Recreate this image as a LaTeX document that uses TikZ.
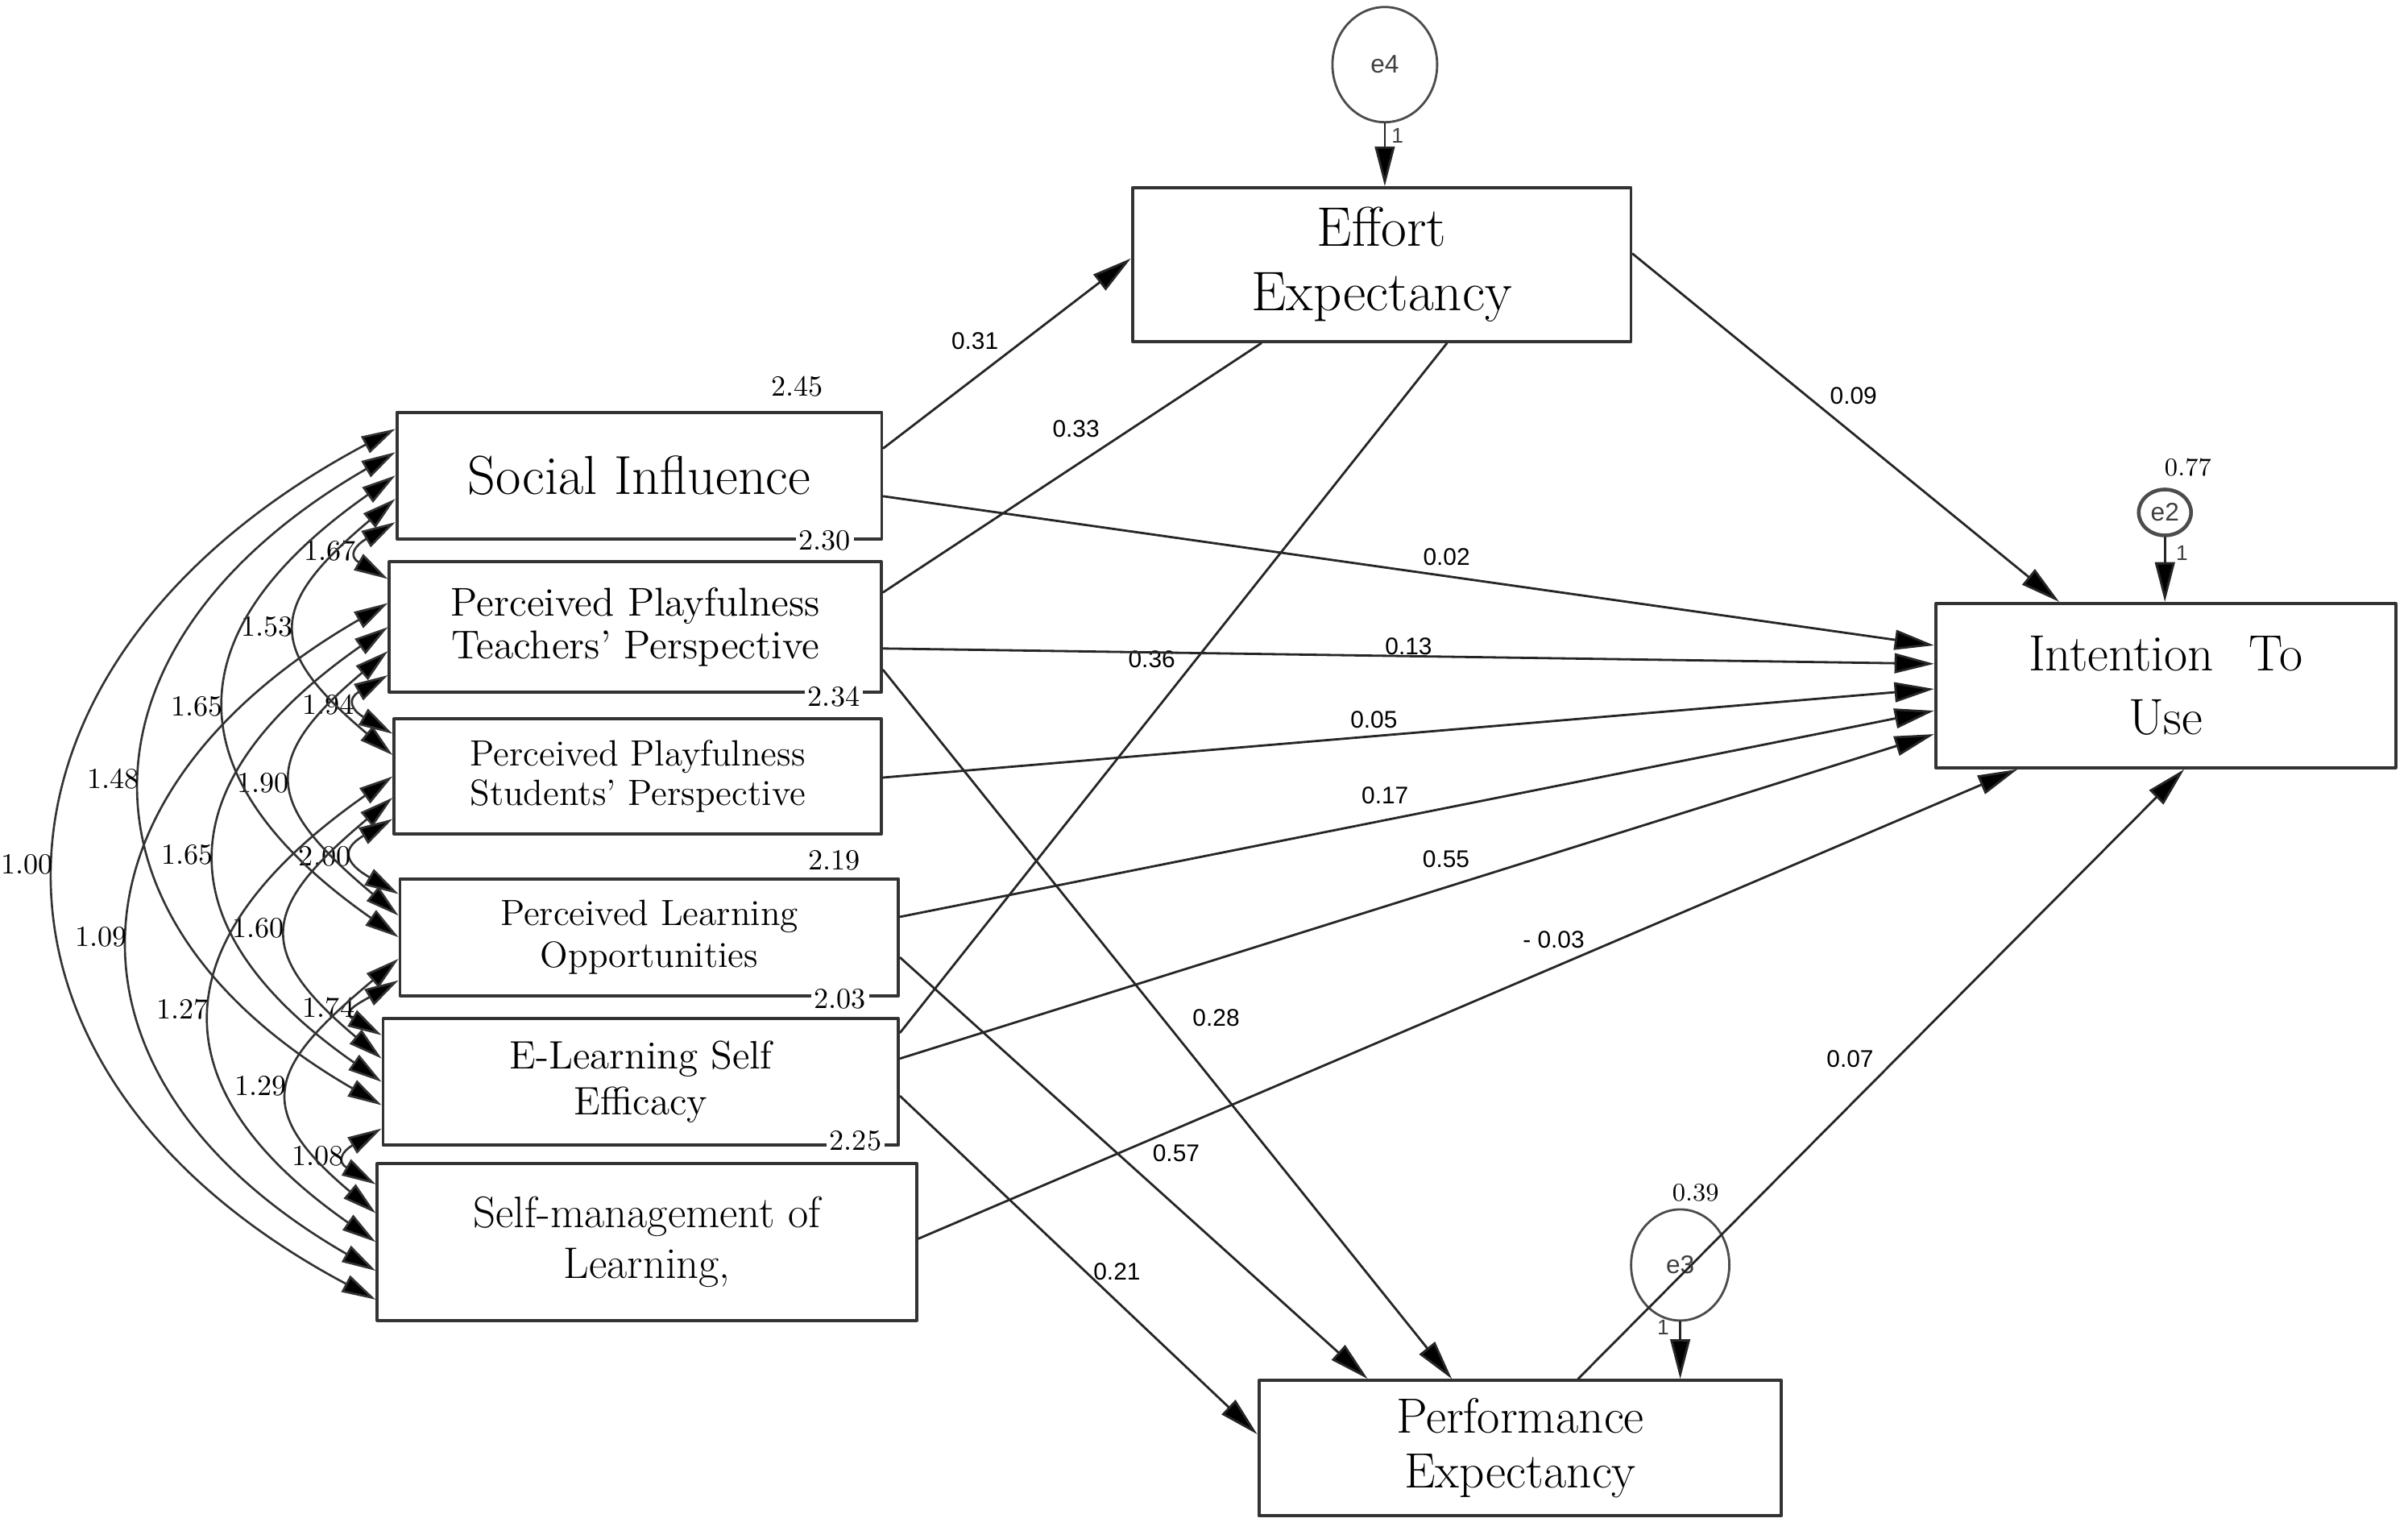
\documentclass[tikz,border=0pt]{standalone}
\usepackage{fontspec}
\newfontfamily\sansnum{Liberation Sans}
\usetikzlibrary{arrows.meta,calc,shapes.geometric}

\begin{document}
\begin{tikzpicture}[line cap=round,line join=round,x=0.0191cm,y=0.0191cm,
                box/.style={draw=black!80,line width=1.1pt,fill=white,align=center,inner sep=0pt},
                err/.style={ellipse,draw=black!70,line width=0.8pt,inner sep=0pt,font=\sansnum\fontsize{9}{10}\selectfont,text=black!75},
                arr/.style={draw=black!85,line width=0.8pt,-{Triangle[length=14pt,width=7pt,fill=black]}},
                lin/.style={draw=black!85,line width=0.8pt},
                cov/.style={draw=black!80,line width=0.75pt,{Triangle[length=12pt,width=6.5pt,fill=black]}-{Triangle[length=12pt,width=6.5pt,fill=black]}},
                cl/.style={left,font=\fontsize{10.3}{12}\selectfont,inner sep=1.5pt},
                cf/.style={font=\sansnum\fontsize{8.5}{10}\selectfont,inner sep=1pt},
                vl/.style={font=\fontsize{10.3}{12}\selectfont,inner sep=1pt,fill=white},
                one/.style={font=\sansnum\fontsize{7.5}{9}\selectfont,text=black!75,inner sep=1pt},
                sp1/.style={out=210,in=150,looseness=2.07},
                sp2/.style={out=220,in=140,looseness=1.66},
                sp3/.style={out=215,in=145,looseness=1.52},
                sp4/.style={out=210,in=150,looseness=1.47},
                sp5/.style={out=208,in=152,looseness=1.45}]
                \useasboundingbox (0,0) rectangle (1565,1000);

                \node[box,minimum width=6.19cm,minimum height=1.91cm,font=\fontsize{19.7}{22.8}\selectfont] (ee) at (898,828) {Effort\\Expectancy};
                \node[box,minimum width=6.02cm,minimum height=1.57cm,font=\fontsize{19.4}{22}\selectfont] (soc) at (415.5,691) {Social Influence};
                \node[box,minimum width=6.11cm,minimum height=1.62cm,font=\fontsize{14.2}{15.2}\selectfont] (ppt) at (413,592.5) {Perceived Playfulness\\Teachers' Perspective};
                \node[box,minimum width=6.05cm,minimum height=1.43cm,font=\fontsize{12.9}{14.1}\selectfont] (pps) at (414.5,495.5) {Perceived Playfulness\\Students' Perspective};
                \node[box,minimum width=6.19cm,minimum height=1.45cm,font=\fontsize{12.9}{14.6}\selectfont] (plo) at (422,391) {Perceived Learning\\Opportunities};
                \node[box,minimum width=6.40cm,minimum height=1.57cm,font=\fontsize{14}{16.3}\selectfont] (els) at (416.5,297) {E-Learning Self\\Efficacy};
                \node[box,minimum width=6.70cm,minimum height=1.95cm,font=\fontsize{15.6}{17.9}\selectfont] (sml) at (420.5,193) {Self-management of\\Learning,};
                \node[box,minimum width=5.71cm,minimum height=2.04cm,font=\fontsize{18}{22.3}\selectfont] (itu) at (1407.5,554.5) {Intention\hspace{0.7em}To\\Use};
                \node[box,minimum width=6.49cm,minimum height=1.68cm,font=\fontsize{17.5}{19.6}\selectfont] (pe) at (988,59) {Performance\\Expectancy};

                \node[err,minimum width=1.30cm,minimum height=1.43cm] (e4) at (900,958) {e4};
                \node[err,minimum width=0.65cm,minimum height=0.57cm,line width=1.3pt] (e2) at (1407,667) {e2};
                \node[err,minimum width=1.22cm,minimum height=1.38cm] (e3) at (1092,178) {e3};

                \draw [arr] (e4.south) -- (e4.south |- ee.north) node[one,pos=.2,xshift=4.5pt] {1};
                \draw [arr] (e2.south) -- (e2.south |- itu.north) node[one,pos=.24,xshift=6pt] {1};
                \draw [arr] (e3.south) -- (e3.south |- pe.north) node[one,pos=.1,xshift=-6pt] {1};

                \draw [cov] ($(soc.north west)!.86!(soc.south west)$) to[sp1] node[cl] {1.67} ($(ppt.north west)!.14!(ppt.south west)$);
                \draw [cov] ($(ppt.north west)!.86!(ppt.south west)$) to[sp1] node[cl] {1.94} ($(pps.north west)!.14!(pps.south west)$);
                \draw [cov] ($(pps.north west)!.86!(pps.south west)$) to[sp1] node[cl] {2.00} ($(plo.north west)!.14!(plo.south west)$);
                \draw [cov] ($(plo.north west)!.86!(plo.south west)$) to[sp1] node[cl] {1.74} ($(els.north west)!.14!(els.south west)$);
                \draw [cov] ($(els.north west)!.86!(els.south west)$) to[sp1] node[cl] {1.08} ($(sml.north west)!.14!(sml.south west)$);
                \draw [cov] ($(soc.north west)!.68!(soc.south west)$) to[sp2] node[cl] {1.53} ($(pps.north west)!.32!(pps.south west)$);
                \draw [cov] ($(ppt.north west)!.68!(ppt.south west)$) to[sp2] node[cl] {1.90} ($(plo.north west)!.32!(plo.south west)$);
                \draw [cov] ($(pps.north west)!.68!(pps.south west)$) to[sp2] node[cl] {1.60} ($(els.north west)!.32!(els.south west)$);
                \draw [cov] ($(plo.north west)!.68!(plo.south west)$) to[sp2] node[cl] {1.29} ($(sml.north west)!.32!(sml.south west)$);
                \draw [cov] ($(soc.north west)!.5!(soc.south west)$) to[sp3] node[cl] {1.65} ($(plo.north west)!.5!(plo.south west)$);
                \draw [cov] ($(ppt.north west)!.5!(ppt.south west)$) to[sp3] node[cl] {1.65} ($(els.north west)!.5!(els.south west)$);
                \draw [cov] ($(pps.north west)!.5!(pps.south west)$) to[sp3] node[cl] {1.27} ($(sml.north west)!.5!(sml.south west)$);
                \draw [cov] ($(soc.north west)!.32!(soc.south west)$) to[sp4] node[cl] {1.48} ($(els.north west)!.68!(els.south west)$);
                \draw [cov] ($(ppt.north west)!.32!(ppt.south west)$) to[sp4] node[cl] {1.09} ($(sml.north west)!.68!(sml.south west)$);
                \draw [cov] ($(soc.north west)!.14!(soc.south west)$) to[sp5] node[cl] {1.00} ($(sml.north west)!.86!(sml.south west)$);

                \draw [arr] ($(soc.north east)!.29!(soc.south east)$) -- ($(ee.north west)!.46!(ee.south west)$) node[cf,pos=.37,yshift=13pt] {0.31};
                \draw [lin] ($(ppt.north east)!.24!(ppt.south east)$) -- ($(ee.south west)!.26!(ee.south east)$) node[cf,pos=.51,yshift=13pt] {0.33};
                \draw [lin] ($(ee.south west)!.63!(ee.south east)$) -- ($(els.north east)!.12!(els.south east)$) node[cf,pos=.458,xshift=-15.8pt] {0.36};
                \draw [arr] ($(ee.north east)!.43!(ee.south east)$) -- ($(itu.north west)!.27!(itu.north east)$) node[cf,pos=.518,yshift=13.4pt] {0.09};
                \draw [arr] ($(soc.north east)!.66!(soc.south east)$) -- ($(itu.north west)!.26!(itu.south west)$) node[cf,pos=.536,yshift=6.8pt] {0.02};
                \draw [arr] ($(ppt.north east)!.66!(ppt.south east)$) -- ($(itu.north west)!.37!(itu.south west)$) node[cf,pos=.5,yshift=3.5pt] {0.13};
                \draw [arr] ($(pps.north east)!.51!(pps.south east)$) -- ($(itu.north west)!.52!(itu.south west)$) node[cf,pos=.467,yshift=5.7pt] {0.05};
                \draw [arr] ($(plo.north east)!.33!(plo.south east)$) -- ($(itu.north west)!.65!(itu.south west)$) node[cf,pos=.469,yshift=8.7pt] {0.17};
                \draw [arr] ($(els.north east)!.32!(els.south east)$) -- ($(itu.north west)!.79!(itu.south west)$) node[cf,pos=.528,yshift=9.8pt] {0.55};
                \draw [arr] ($(sml.north east)!.48!(sml.south east)$) -- ($(itu.south west)!.18!(itu.south east)$) node[cf,pos=.578,yshift=9.8pt] {- 0.03};
                \draw [arr] ($(pe.north west)!.61!(pe.north east)$) -- ($(itu.south west)!.54!(itu.south east)$) node[cf,pos=.525,xshift=-16.3pt] {0.07};
                \draw [arr] ($(ppt.north east)!.82!(ppt.south east)$) -- ($(pe.north west)!.37!(pe.north east)$) node[cf,pos=.491,xshift=19pt] {0.28};
                \draw [arr] ($(plo.north east)!.67!(plo.south east)$) -- ($(pe.north west)!.21!(pe.north east)$) node[cf,pos=.465,xshift=20.7pt] {0.57};
                \draw [arr] ($(els.north east)!.61!(els.south east)$) -- ($(pe.north west)!.40!(pe.south west)$) node[cf,pos=.607,yshift=10.6pt] {0.21};

                \node[vl,fill=none] (v245) at ($(soc.north east)+(-56,16)$) {2.45};
                \node[vl] (v230) at ($(soc.south east)+(-38,0)$) {2.30};
                \node[vl] (v234) at ($(ppt.south east)+(-32,-2)$) {2.34};
                \node[vl,fill=none] (v219) at ($(plo.north east)+(-43,11)$) {2.19};
                \node[vl] (v203) at ($(plo.south east)+(-39,-1)$) {2.03};
                \node[vl] (v225) at ($(els.south east)+(-29,4)$) {2.25};
                \node[vl,fill=none,font=\fontsize{9}{10}\selectfont] (v077) at ($(e2)+(15,29)$) {0.77};
                \node[vl,fill=none,font=\fontsize{9}{10}\selectfont] (v039) at ($(e3)+(10,47)$) {0.39};
            \end{tikzpicture}
\end{document}
